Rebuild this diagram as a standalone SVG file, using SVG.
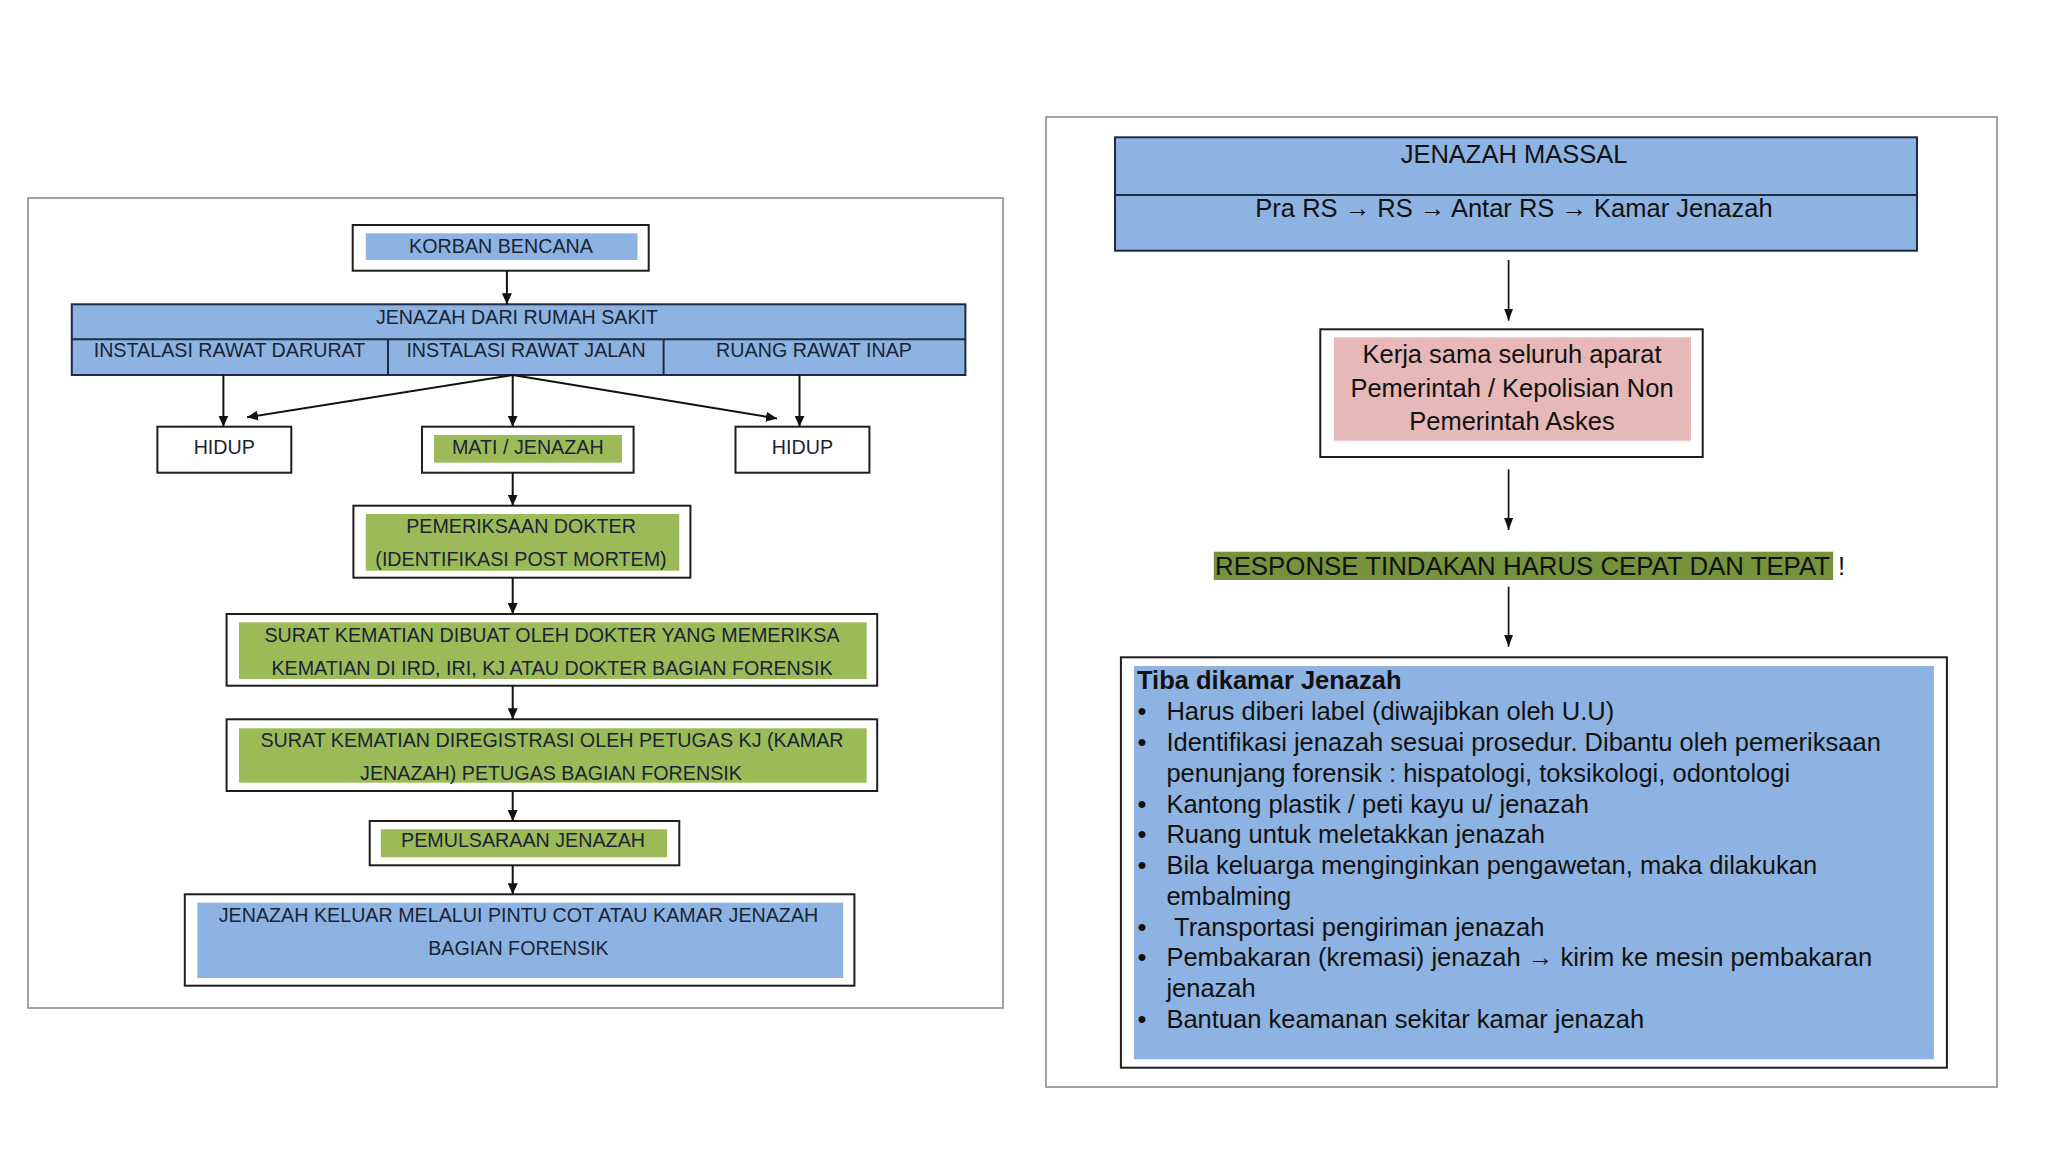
<svg xmlns="http://www.w3.org/2000/svg" width="2048" height="1152" viewBox="0 0 2048 1152">
<style>
.panel{fill:#fff;stroke:#8c8c8c;stroke-width:1.6}
.frame{fill:#fff;stroke:#1e1e1e;stroke-width:2}
.blue{fill:#8db3e2}
.green{fill:#9bbb59}
.pink{fill:#e6b9b8}
.hl{fill:#76923c}
.tbl{fill:#8db3e2;stroke:#1f2b45;stroke-width:2}
.div{stroke:#1f2b45;stroke-width:2}
.tl{font-family:"Liberation Sans",Arial,sans-serif;font-size:19.7px;fill:#1b2334;text-anchor:middle}
.tr{font-family:"Liberation Sans",Arial,sans-serif;font-size:25.5px;fill:#111}
.c{text-anchor:middle}
.b{font-weight:bold}
.conn line{stroke:#111;stroke-width:2;fill:none}
.connr line{stroke:#111;stroke-width:1.7;fill:none}
</style>
<defs>
<marker id="ah" markerUnits="userSpaceOnUse" markerWidth="12" markerHeight="10" refX="11" refY="5" orient="auto">
<path d="M0,0 L11,5 L0,10 z" fill="#111"/>
</marker>
<marker id="ahr" markerUnits="userSpaceOnUse" markerWidth="13" markerHeight="10" refX="12" refY="4.5" orient="auto">
<path d="M0,0 L12,4.5 L0,9 z" fill="#111"/>
</marker>
</defs>
<rect x="0" y="0" width="2048" height="1152" fill="#fff"/>

<!-- LEFT PANEL -->
<rect class="panel" x="28" y="198" width="975" height="810"/>

<g id="korban">
<rect class="frame" x="352.7" y="225" width="296" height="45.7"/>
<rect class="blue" x="365.8" y="233.3" width="271.7" height="26.7"/>
<text class="tl" x="501" y="252.5">KORBAN BENCANA</text>
</g>

<g id="rumah-sakit">
<rect class="tbl" x="71.8" y="304.3" width="893.6" height="70.7"/>
<line class="div" x1="71.8" y1="339.3" x2="965.4" y2="339.3"/>
<line class="div" x1="388" y1="339.3" x2="388" y2="375"/>
<line class="div" x1="663.6" y1="339.3" x2="663.6" y2="375"/>
<text class="tl" x="517" y="324">JENAZAH DARI RUMAH SAKIT</text>
<text class="tl" x="229.5" y="357.3">INSTALASI RAWAT DARURAT</text>
<text class="tl" x="526" y="357.3">INSTALASI RAWAT JALAN</text>
<text class="tl" x="814" y="357.3">RUANG RAWAT INAP</text>
</g>

<g id="hidup-kiri">
<rect class="frame" x="157.4" y="426.7" width="133.9" height="46"/>
<text class="tl" x="224.3" y="454">HIDUP</text>
</g>

<g id="mati">
<rect class="frame" x="422" y="426.7" width="211.6" height="46"/>
<rect class="green" x="434" y="435" width="188" height="27.7"/>
<text class="tl" x="527.8" y="454">MATI / JENAZAH</text>
</g>

<g id="hidup-kanan">
<rect class="frame" x="735.5" y="426.7" width="133.9" height="46"/>
<text class="tl" x="802.4" y="454">HIDUP</text>
</g>

<g id="pemeriksaan">
<rect class="frame" x="353.4" y="505.7" width="337" height="72"/>
<rect class="green" x="365.8" y="514" width="313.5" height="56.7"/>
<text class="tl" x="521" y="532.5">PEMERIKSAAN DOKTER</text>
<text class="tl" x="521" y="565.5">(IDENTIFIKASI POST MORTEM)</text>
</g>

<g id="surat-dibuat">
<rect class="frame" x="226.6" y="614" width="650.6" height="71.7"/>
<rect class="green" x="239" y="622.3" width="627.7" height="56.7"/>
<text class="tl" x="552" y="641.5">SURAT KEMATIAN DIBUAT OLEH DOKTER YANG MEMERIKSA</text>
<text class="tl" x="552" y="675">KEMATIAN DI IRD, IRI, KJ ATAU DOKTER BAGIAN FORENSIK</text>
</g>

<g id="surat-registrasi">
<rect class="frame" x="226.6" y="719.3" width="650.6" height="71.7"/>
<rect class="green" x="239" y="728.3" width="627.7" height="54.4"/>
<text class="tl" x="552" y="746.5">SURAT KEMATIAN DIREGISTRASI OLEH PETUGAS KJ (KAMAR</text>
<text class="tl" x="551" y="780">JENAZAH) PETUGAS BAGIAN FORENSIK</text>
</g>

<g id="pemulsaraan">
<rect class="frame" x="369.7" y="821" width="309.6" height="44.3"/>
<rect class="green" x="380.8" y="829.3" width="286.2" height="28"/>
<text class="tl" x="523" y="847">PEMULSARAAN JENAZAH</text>
</g>

<g id="keluar">
<rect class="frame" x="184.8" y="894.3" width="669.6" height="91.4"/>
<rect class="blue" x="197.3" y="902.7" width="645.9" height="75.3"/>
<text class="tl" x="518.5" y="921.7">JENAZAH KELUAR MELALUI PINTU COT ATAU KAMAR JENAZAH</text>
<text class="tl" x="518.5" y="955">BAGIAN FORENSIK</text>
</g>

<g id="connectors-left" class="conn">
<line x1="506.9" y1="270.7" x2="506.9" y2="304.3" marker-end="url(#ah)"/>
<line x1="223.4" y1="375" x2="223.4" y2="426.7" marker-end="url(#ah)"/>
<line x1="512.7" y1="375" x2="247" y2="417.3" marker-end="url(#ah)"/>
<line x1="512.7" y1="375" x2="512.7" y2="426.7" marker-end="url(#ah)"/>
<line x1="512.7" y1="375" x2="777" y2="418.5" marker-end="url(#ah)"/>
<line x1="799.5" y1="375" x2="799.5" y2="426.7" marker-end="url(#ah)"/>
<line x1="512.7" y1="472.7" x2="512.7" y2="505.7" marker-end="url(#ah)"/>
<line x1="512.7" y1="577.7" x2="512.7" y2="614" marker-end="url(#ah)"/>
<line x1="512.7" y1="685.7" x2="512.7" y2="719.3" marker-end="url(#ah)"/>
<line x1="512.7" y1="791" x2="512.7" y2="821" marker-end="url(#ah)"/>
<line x1="512.7" y1="865.3" x2="512.7" y2="894.3" marker-end="url(#ah)"/>
</g>

<!-- RIGHT PANEL -->
<rect class="panel" x="1046" y="117" width="951" height="970"/>

<g id="massal">
<rect class="tbl" x="1115" y="137.3" width="802" height="113.4"/>
<line class="div" x1="1115" y1="195" x2="1917" y2="195"/>
<text class="tr c" x="1514" y="162.5">JENAZAH MASSAL</text>
<text class="tr c" x="1514" y="217">Pra RS → RS → Antar RS → Kamar Jenazah</text>
</g>

<g id="kerjasama">
<rect class="frame" x="1320.3" y="329.3" width="382.4" height="127.7"/>
<rect class="pink" x="1333.9" y="337.3" width="357.1" height="103.4"/>
<text class="tr c" x="1512" y="363.3">Kerja sama seluruh aparat</text>
<text class="tr c" x="1512" y="396.7">Pemerintah / Kepolisian Non</text>
<text class="tr c" x="1512" y="429.5">Pemerintah Askes</text>
</g>

<g id="response">
<rect class="hl" x="1213.8" y="551.7" width="619.4" height="28.3"/>
<text class="tr" x="1215" y="575" textLength="615" lengthAdjust="spacingAndGlyphs">RESPONSE TINDAKAN HARUS CEPAT DAN TEPAT</text>
<text class="tr" x="1838" y="575">!</text>
</g>

<g id="tiba">
<rect class="frame" x="1120.9" y="657.3" width="826" height="410.4"/>
<rect class="blue" x="1133.9" y="666" width="800" height="393.3"/>
<text class="tr b" x="1137" y="689">Tiba dikamar Jenazah</text>
<g class="tr c">
<text x="1142" y="720">•</text>
<text x="1142" y="751">•</text>
<text x="1142" y="812.5">•</text>
<text x="1142" y="843">•</text>
<text x="1142" y="874">•</text>
<text x="1142" y="935.5">•</text>
<text x="1142" y="966">•</text>
<text x="1142" y="1027.5">•</text>
</g>
<text class="tr" x="1166.4" y="720">Harus diberi label (diwajibkan oleh U.U)</text>
<text class="tr" x="1166.4" y="751">Identifikasi jenazah sesuai prosedur. Dibantu oleh pemeriksaan</text>
<text class="tr" x="1166.4" y="782">penunjang forensik : hispatologi, toksikologi, odontologi</text>
<text class="tr" x="1166.4" y="812.5">Kantong plastik / peti kayu u/ jenazah</text>
<text class="tr" x="1166.4" y="843">Ruang untuk meletakkan jenazah</text>
<text class="tr" x="1166.4" y="874">Bila keluarga menginginkan pengawetan, maka dilakukan</text>
<text class="tr" x="1166.4" y="905">embalming</text>
<text class="tr" x="1174" y="935.5">Transportasi pengiriman jenazah</text>
<text class="tr" x="1166.4" y="966">Pembakaran (kremasi) jenazah → kirim ke mesin pembakaran</text>
<text class="tr" x="1166.4" y="997">jenazah</text>
<text class="tr" x="1166.4" y="1027.5">Bantuan keamanan sekitar kamar jenazah</text>
</g>

<g id="connectors-right" class="connr">
<line x1="1508.6" y1="260" x2="1508.6" y2="320.7" marker-end="url(#ahr)"/>
<line x1="1508.6" y1="469.3" x2="1508.6" y2="530" marker-end="url(#ahr)"/>
<line x1="1508.6" y1="586.7" x2="1508.6" y2="646.7" marker-end="url(#ahr)"/>
</g>
</svg>
